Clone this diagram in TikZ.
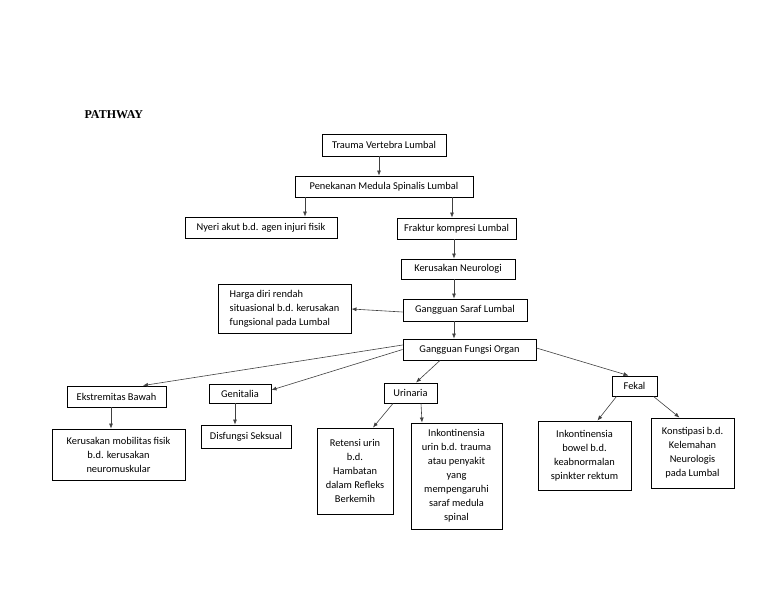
\documentclass[tikz,border=0pt]{standalone}
\usepackage{fontspec}
\setmainfont{Carlito}
\newfontfamily\titlefont{Liberation Serif}
\usetikzlibrary{arrows.meta}
\tikzset{
  box/.style={draw=black, line width=0.9pt, inner sep=1pt, align=center,
    font=\fontsize{10.4}{14}\selectfont},
  arr/.style={draw=black!75, line width=0.6pt, -{Latex[length=5pt,width=4pt]}},
}
\newcommand\bx[6]{%
  \node[box, minimum width={(#4-#2)*1pt}, minimum height={(#5-#3)*1pt}]
    (#1) at ({(#2+#4)/2},{(#3+#5)/2}) {#6};}
\begin{document}
\begin{tikzpicture}[x=1pt,y=-1pt]
\useasboundingbox (0,0) rectangle (768,594);
\node[font=\titlefont\bfseries\fontsize{12}{14}\selectfont, anchor=west] (title) at (81,115) {PATHWAY};
\bx{trauma}{322}{134}{446}{156}{Trauma Vertebra Lumbal}
\bx{pen}{295}{176}{473}{197}{Penekanan Medula Spinalis Lumbal}
\bx{nyeri}{185}{217}{337}{238}{Nyeri akut b.d. agen injuri fisik}
\bx{fraktur}{397}{218}{516}{239}{Fraktur kompresi Lumbal}
\bx{neuro}{401}{259}{515}{279}{Kerusakan Neurologi}
\bx{harga}{218}{284}{351}{333}{\begin{tabular}{@{}l@{}}Harga diri rendah\\situasional b.d. kerusakan\\fungsional pada Lumbal\end{tabular}}
\bx{saraf}{403}{299}{527}{321}{Gangguan Saraf Lumbal}
\bx{gfo}{403}{339}{536}{360}{Gangguan Fungsi Organ}
\bx{ekst}{67}{386}{166}{407}{Ekstremitas Bawah}
\bx{genit}{209}{384}{271}{403}{Genitalia}
\bx{urin}{384}{383}{437}{403}{Urinaria}
\bx{fekal}{612}{376}{657}{396}{Fekal}
\bx{mob}{52}{429}{185}{480}{Kerusakan mobilitas fisik\\b.d. kerusakan\\neuromuskular}
\bx{disf}{201}{425}{291}{448}{Disfungsi Seksual}
\bx{ret}{317}{428}{393}{514}{Retensi urin\\b.d.\\Hambatan\\dalam Refleks\\Berkemih}
\bx{inku}{411}{423}{502}{529}{Inkontinensia\\urin b.d. trauma\\atau penyakit\\yang\\mempengaruhi\\saraf medula\\spinal}
\bx{inkb}{538}{421}{631}{490}{Inkontinensia\\bowel b.d.\\keabnormalan\\spinkter rektum}
\bx{kons}{651}{418}{734}{488}{Konstipasi b.d.\\Kelemahan\\Neurologis\\pada Lumbal}

\draw[arr] ([xshift=-5pt]trauma.south) -- ([xshift=-5pt]pen.north);
\draw[arr] ([xshift=-79pt]pen.south) -- ([xshift=44pt]nyeri.north);
\draw[arr] ([xshift=68pt]pen.south) -- ([xshift=-4.5pt]fraktur.north);
\draw[arr] ([xshift=-2.5pt]fraktur.south) -- ([xshift=-4pt]neuro.north);
\draw[arr] ([xshift=-4pt]neuro.south) -- ([xshift=-11pt]saraf.north);
\draw[arr] ([yshift=-2pt]saraf.west) -- ([yshift=-0.5pt]harga.east);
\draw[arr] ([xshift=-11pt]saraf.south) -- ([xshift=-15.5pt]gfo.north);
\draw[arr] ([yshift=4.5pt]gfo.west) -- ([xshift=26.5pt]ekst.north);
\draw[arr] (gfo.west) -- ([yshift=3.5pt]genit.east);
\draw[arr] ([xshift=-29.5pt]gfo.south) -- ([xshift=5.5pt]urin.north);
\draw[arr] ([yshift=1.5pt]gfo.east) -- ([xshift=-6pt]fekal.north);
\draw[arr] ([xshift=-5.5pt]ekst.south) -- ([xshift=-7.5pt]mob.north);
\draw[arr] ([xshift=-5pt]genit.south) -- ([xshift=-11pt]disf.north);
\draw[arr] ([xshift=-17.5pt]urin.south) -- ([xshift=18pt]ret.north);
\draw[arr] ([xshift=10.5pt]urin.south) -- ([xshift=-34.5pt]inku.north);
\draw[arr] ([xshift=-18pt]fekal.south) -- ([xshift=13pt]inkb.north);
\draw[arr] ([xshift=19pt]fekal.south) -- ([xshift=-13pt]kons.north);
\end{tikzpicture}
\end{document}
